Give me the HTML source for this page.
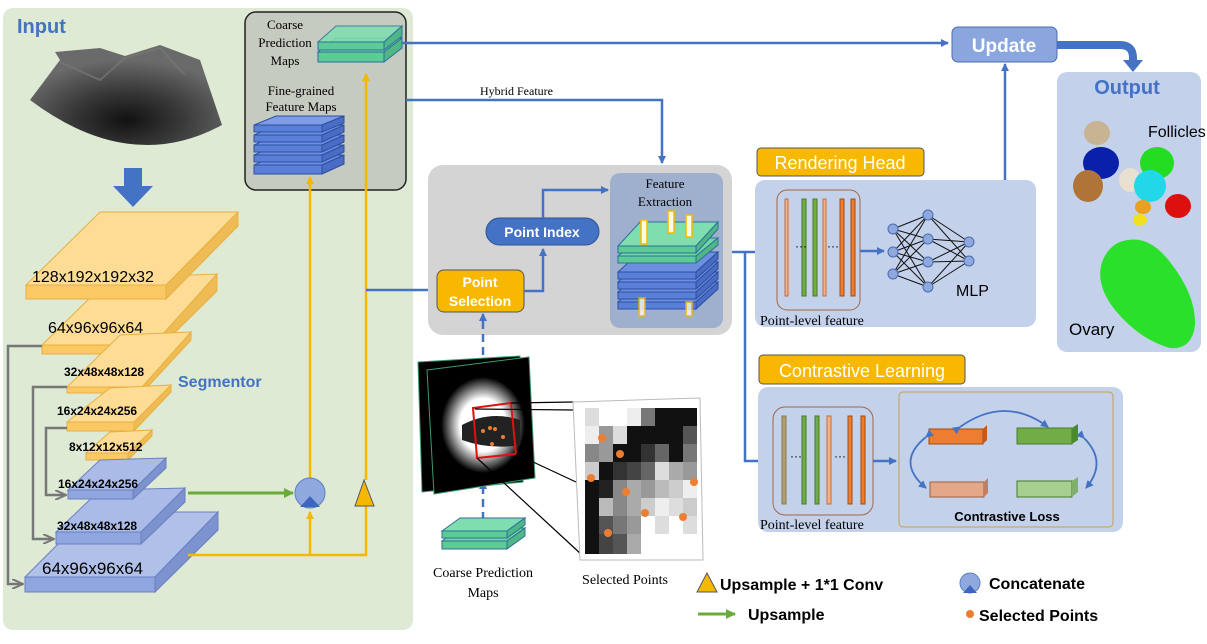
<!DOCTYPE html>
<html><head><meta charset="utf-8"><style>
html,body{margin:0;padding:0;background:#fff}
svg{display:block}
text{font-family:"Liberation Sans",sans-serif}
.s{font-family:"Liberation Serif",serif}
</style></head><body>
<svg width="1207" height="644" viewBox="0 0 1207 644" xmlns="http://www.w3.org/2000/svg">
<defs>
<marker id="ab" markerWidth="8" markerHeight="8" refX="7" refY="4" orient="auto" markerUnits="userSpaceOnUse"><path d="M0,0 L8,4 L0,8 z" fill="#4472c4"/></marker>
<marker id="ay" markerWidth="8" markerHeight="8" refX="7" refY="4" orient="auto" markerUnits="userSpaceOnUse"><path d="M0,0 L8,4 L0,8 z" fill="#f5b800"/></marker>
<marker id="ag" markerWidth="10" markerHeight="10" refX="9" refY="5" orient="auto" markerUnits="userSpaceOnUse"><path d="M0,0 L10,5 L0,10 z" fill="#6aab3c"/></marker>
<marker id="agr" markerWidth="12" markerHeight="10" refX="11" refY="5" orient="auto" markerUnits="userSpaceOnUse"><path d="M0,0 L11,5 L0,10" fill="none" stroke="#777" stroke-width="2"/></marker>
<radialGradient id="blur" cx="0.5" cy="0.5" r="0.5"><stop offset="0.55" stop-color="#fff"/><stop offset="1" stop-color="#000"/></radialGradient>
<radialGradient id="us" cx="0.5" cy="0.75" r="0.6"><stop offset="0" stop-color="#111"/><stop offset="0.5" stop-color="#3a3a3a"/><stop offset="1" stop-color="#6a6a6a"/></radialGradient>
</defs>

<rect x="3" y="8" width="410" height="622" rx="10" fill="#dfead5"/>
<text x="17" y="33" font-size="20" font-weight="bold" fill="#4472c4">Input</text>
<path d="M30,100 L60,60 L55,52 L100,48 L125,56 L160,45 L200,60 L222,125 Q130,175 30,100 Z" fill="url(#us)"/>
<path d="M60,62 L100,80 L125,58 L160,48 L185,75" fill="none" stroke="#777" stroke-width="2" opacity="0.7"/>
<rect x="124" y="168" width="18" height="20" fill="#4472c4"/>
<path d="M113,186 L153,186 L133,207 Z" fill="#4472c4"/>

<rect x="245" y="12" width="161" height="178" rx="11" fill="#c5cbc0" stroke="#222" stroke-width="1.5"/>
<text class="s" x="285" y="29" font-size="13" text-anchor="middle">Coarse</text>
<text class="s" x="285" y="47" font-size="13" text-anchor="middle">Prediction</text>
<text class="s" x="285" y="65" font-size="13" text-anchor="middle">Maps</text>
<g stroke="#2e6f9a" stroke-width="1">
<path d="M318,52 L336,38 L402,38 L384,52 Z" fill="#6fd6a4"/><rect x="318" y="52" width="66" height="10" fill="#5ccb95"/><path d="M384,62 L402,48 L402,38 L384,52Z" fill="#4fb686"/>
<path d="M318,42 L336,26 L402,26 L384,42 Z" fill="#7fdeb0" opacity="0.85"/><rect x="318" y="42" width="66" height="8" fill="#5ccb95"/><path d="M384,50 L402,36 L402,26 L384,42Z" fill="#4fb686"/>
</g>
<text class="s" x="301" y="95" font-size="13" text-anchor="middle">Fine-grained</text>
<text class="s" x="301" y="111" font-size="13" text-anchor="middle">Feature Maps</text>
<g stroke="#2c4fa0" stroke-width="1">
<path d="M254,165 L276,155 L344,155 L322,165Z" fill="#6d8fe0"/><rect x="254" y="165" width="68" height="9" fill="#5a7fd8"/><path d="M322,174 L344,164 L344,155 L322,165Z" fill="#4a6cc4"/>
<path d="M254,155 L276,145 L344,145 L322,155Z" fill="#6d8fe0"/><rect x="254" y="155" width="68" height="7" fill="#5a7fd8"/><path d="M322,162 L344,152 L344,145 L322,155Z" fill="#4a6cc4"/>
<path d="M254,145 L276,135 L344,135 L322,145Z" fill="#6d8fe0"/><rect x="254" y="145" width="68" height="7" fill="#5a7fd8"/><path d="M322,152 L344,142 L344,135 L322,145Z" fill="#4a6cc4"/>
<path d="M254,135 L276,125 L344,125 L322,135Z" fill="#6d8fe0"/><rect x="254" y="135" width="68" height="7" fill="#5a7fd8"/><path d="M322,142 L344,132 L344,125 L322,135Z" fill="#4a6cc4"/>
<path d="M254,125 L276,116 L344,116 L322,125Z" fill="#7f9ce6"/><rect x="254" y="125" width="68" height="7" fill="#5a7fd8"/><path d="M322,132 L344,123 L344,116 L322,125Z" fill="#4a6cc4"/>
</g>

<g stroke="#e8b040" stroke-width="1">
<path d="M153,354 L217,291 L217,274 L153,345 Z" fill="#eebb55"/><path d="M42,345 L110,278 L217,274 L153,345 Z" fill="#fddc95"/><rect x="42" y="345" width="111" height="9" fill="#fbc964"/>
<path d="M166,299 L238,226 L238,212 L166,285 Z" fill="#eebb55"/><path d="M26,285 L100,212 L238,212 L166,285 Z" fill="#fddc95"/><rect x="26" y="285" width="140" height="14" fill="#fbc964"/>
<path d="M142,393 L191,340 L191,332 L142,387 Z" fill="#eebb55"/><path d="M67,387 L120,335 L191,332 L142,387 Z" fill="#fddc95"/><rect x="67" y="387" width="75" height="6" fill="#fbc964"/>
<path d="M134,431 L171,392 L171,385 L134,422 Z" fill="#eebb55"/><path d="M67,422 L110,388 L171,385 L134,422 Z" fill="#fddc95"/><rect x="67" y="422" width="67" height="9" fill="#fbc964"/>
<path d="M128,460 L152,436 L152,430 L128,453 Z" fill="#eebb55"/><path d="M86,453 L110,432 L152,430 L128,453 Z" fill="#fddc95"/><rect x="86" y="453" width="42" height="7" fill="#fbc964"/>
</g>
<text x="32" y="282" font-size="16">128x192x192x32</text>
<text x="48" y="333" font-size="16">64x96x96x64</text>
<text x="64" y="376" font-size="12" font-weight="bold">32x48x48x128</text>
<text x="57" y="415" font-size="12" font-weight="bold">16x24x24x256</text>
<text x="69" y="451" font-size="12" font-weight="bold">8x12x12x512</text>
<g stroke="#6a80c0" stroke-width="1">
<path d="M25,577 L90,512 L218,512 L155,577 Z" fill="#b0c0e8"/><rect x="25" y="577" width="130" height="15" fill="#8fa6df"/><path d="M155,592 L218,530 L218,512 L155,577Z" fill="#7d93cf"/>
<path d="M56,532 L100,490 L185,488 L141,532 Z" fill="#a9bbe6"/><rect x="56" y="532" width="85" height="12" fill="#8fa6df"/><path d="M141,544 L185,502 L185,488 L141,532Z" fill="#7d93cf"/>
<path d="M68,490 L100,460 L166,458 L133,490 Z" fill="#a9bbe6"/><rect x="68" y="490" width="65" height="9" fill="#8fa6df"/><path d="M133,499 L166,468 L166,458 L133,490Z" fill="#7d93cf"/>
</g>
<text x="58" y="488" font-size="12" font-weight="bold">16x24x24x256</text>
<text x="57" y="530" font-size="12" font-weight="bold">32x48x48x128</text>
<text x="42" y="574" font-size="17">64x96x96x64</text>
<text x="178" y="387" font-size="16" font-weight="bold" fill="#4472c4">Segmentor</text>
<g fill="none" stroke="#777" stroke-width="2.5">
<path d="M42,346 L8,346 L8,584 L23,584" marker-end="url(#agr)"/>
<path d="M67,387 L33,387 L33,539 L54,539" marker-end="url(#agr)"/>
<path d="M67,428 L46,428 L46,495 L66,495" marker-end="url(#agr)"/>
</g>
<line x1="188" y1="493" x2="293" y2="493" stroke="#6aab3c" stroke-width="3" marker-end="url(#ag)"/>
<g fill="none" stroke="#f5b800" stroke-width="2.5">
<path d="M188,555 L366,555 L366,505"/>
<path d="M310,555 L310,512" marker-end="url(#ay)"/>
<path d="M366,480 L366,74" marker-end="url(#ay)"/>
<path d="M310,478 L310,177" marker-end="url(#ay)"/>
</g>
<circle cx="310" cy="493" r="15" fill="#8fa9de" stroke="#5d7fc4"/>
<path d="M300,507 L310,496 L320,507 Z" fill="#3d66c0"/>
<path d="M364,480 L374,506 L355,506 Z" fill="#f5b800" stroke="#556" stroke-width="1"/>

<g fill="none" stroke="#4472c4" stroke-width="2.5">
<path d="M402,43 L948,43" marker-end="url(#ab)"/>
<path d="M406,100 L662,100 L662,163" marker-end="url(#ab)"/>
<path d="M366,290 L435,290" marker-end="url(#ab)"/>
<path d="M980,250 L1005,250 L1005,64" marker-end="url(#ab)"/>
</g>
<text class="s" x="480" y="95" font-size="12">Hybrid Feature</text>
<rect x="952" y="27" width="105" height="35" rx="6" fill="#8aa6dc" stroke="#4a6cb0"/>
<text x="1004" y="52" font-size="19" font-weight="bold" fill="#fff" text-anchor="middle">Update</text>
<path d="M1057,45 L1120,45 Q1133,45 1133,58 L1133,62" fill="none" stroke="#4472c4" stroke-width="8"/>
<path d="M1123,60 L1143,60 L1133,72 Z" fill="#4472c4"/>
<rect x="1057" y="72" width="144" height="280" rx="10" fill="#c3d1ea"/>
<text x="1127" y="94" font-size="20" font-weight="bold" fill="#4472c4" text-anchor="middle">Output</text>
<text x="1148" y="137" font-size="16">Follicles</text>
<ellipse cx="1097" cy="133" rx="13" ry="12" fill="#c8b392"/>
<ellipse cx="1101" cy="163" rx="18" ry="16" fill="#0a1faa"/>
<ellipse cx="1088" cy="186" rx="15" ry="16" fill="#b07438"/>
<ellipse cx="1157" cy="163" rx="17" ry="16" fill="#22dd22"/>
<ellipse cx="1130" cy="180" rx="11" ry="12" fill="#e8e0d0"/>
<ellipse cx="1150" cy="186" rx="16" ry="16" fill="#22d8e8"/>
<ellipse cx="1143" cy="207" rx="8" ry="7" fill="#e8a020"/>
<ellipse cx="1140" cy="220" rx="7" ry="6" fill="#f0e020"/>
<ellipse cx="1178" cy="206" rx="13" ry="12" fill="#dd1010"/>
<path d="M1128,240 Q1150,236 1170,262 Q1196,295 1195,325 Q1192,350 1170,348 Q1140,340 1115,310 Q1095,285 1102,262 Q1110,242 1128,240 Z" fill="#2be02b"/>
<text x="1069" y="335" font-size="17">Ovary</text>

<rect x="428" y="165" width="304" height="170" rx="15" fill="#d4d4d4"/>
<rect x="610" y="173" width="113" height="155" rx="10" fill="#9fb0cf"/>
<text class="s" x="665" y="188" font-size="13" text-anchor="middle">Feature</text>
<text class="s" x="665" y="206" font-size="13" text-anchor="middle">Extraction</text>
<g stroke="#2c4fa0" stroke-width="1">
<path d="M618,302 L640,282 L718,282 L696,302Z" fill="#6d8fe0"/><rect x="618" y="302" width="78" height="7" fill="#5a7fd8"/><path d="M696,309 L718,289 L718,282 L696,302Z" fill="#4a6cc4"/>
<path d="M618,292 L640,272 L718,272 L696,292Z" fill="#6d8fe0"/><rect x="618" y="292" width="78" height="7" fill="#5a7fd8"/><path d="M696,299 L718,279 L718,272 L696,292Z" fill="#4a6cc4"/>
<path d="M618,282 L640,262 L718,262 L696,282Z" fill="#6d8fe0"/><rect x="618" y="282" width="78" height="7" fill="#5a7fd8"/><path d="M696,289 L718,269 L718,262 L696,282Z" fill="#4a6cc4"/>
<path d="M618,272 L640,252 L718,252 L696,272Z" fill="#6d8fe0"/><rect x="618" y="272" width="78" height="7" fill="#5a7fd8"/><path d="M696,279 L718,259 L718,252 L696,272Z" fill="#4a6cc4"/>
</g>
<g stroke="#2e6f9a" stroke-width="1">
<path d="M618,256 L640,238 L718,238 L696,256Z" fill="#6fd6a4"/><rect x="618" y="256" width="78" height="7" fill="#5ccb95"/><path d="M696,263 L718,245 L718,238 L696,256Z" fill="#4fb686"/>
<path d="M618,246 L640,222 L718,222 L696,246Z" fill="#7fdeb0"/><rect x="618" y="246" width="78" height="7" fill="#5ccb95"/><path d="M696,253 L718,229 L718,222 L696,246Z" fill="#4fb686"/>
</g>
<g fill="#fffbe0" stroke="#f5b800" stroke-width="1.5">
<rect x="641" y="220" width="6" height="24"/><rect x="668" y="211" width="6" height="22"/><rect x="686" y="215" width="6" height="22"/>
<rect x="639" y="298" width="6" height="18" opacity="0.8"/><rect x="686" y="302" width="6" height="14" opacity="0.8"/>
</g>
<rect x="437" y="270" width="87" height="42" rx="7" fill="#f8b800" stroke="#555"/>
<text x="480" y="287" font-size="14" font-weight="bold" fill="#fff" text-anchor="middle">Point</text>
<text x="480" y="306" font-size="14" font-weight="bold" fill="#fff" text-anchor="middle">Selection</text>
<rect x="486" y="218" width="113" height="27" rx="13.5" fill="#4472c4" stroke="#2f528f"/>
<text x="542" y="237" font-size="14" font-weight="bold" fill="#fff" text-anchor="middle">Point Index</text>
<g fill="none" stroke="#4472c4" stroke-width="2.5">
<path d="M524,291 L543,291 L543,249" marker-end="url(#ab)"/>
<path d="M543,218 L543,190 L608,190" marker-end="url(#ab)"/>
<path d="M732,252 L776,252" marker-end="url(#ab)"/>
<path d="M745,252 L745,461 L771,461" marker-end="url(#ab)"/>
<path d="M483,355 L483,314" stroke-dasharray="8,5" marker-end="url(#ab)"/>
<path d="M483,520 L483,482" stroke-dasharray="8,5" marker-end="url(#ab)"/>
</g>

<rect x="757" y="148" width="167" height="28" rx="4" fill="#f8b800" stroke="#555"/>
<text x="840" y="169" font-size="18" fill="#fff" text-anchor="middle">Rendering Head</text>
<rect x="755" y="180" width="281" height="147" rx="10" fill="#c3d1ea"/>
<rect x="777" y="190" width="83" height="120" rx="10" fill="none" stroke="#a0674a"/>
<g stroke-width="1">
<rect x="785" y="199" width="3" height="97" fill="#f4b183" stroke="#c07040"/>
<rect x="802" y="199" width="4" height="97" fill="#70ad47" stroke="#4a7a2a"/>
<rect x="813" y="199" width="4" height="97" fill="#70ad47" stroke="#4a7a2a"/>
<rect x="823" y="199" width="3" height="97" fill="#f4b183" stroke="#c07040"/>
<rect x="840" y="199" width="4" height="97" fill="#ed7d31" stroke="#a04a10"/>
<rect x="851" y="199" width="4" height="97" fill="#ed7d31" stroke="#a04a10"/>
</g>
<text x="795" y="250" font-size="12">···</text><text x="827" y="250" font-size="12">···</text>
<line x1="860" y1="251" x2="884" y2="251" stroke="#4472c4" stroke-width="2.5" marker-end="url(#ab)"/>
<g stroke="#111" stroke-width="1">
<path d="M893,229 L928,215 M893,229 L928,239 M893,229 L928,262 M893,229 L928,287 M893,252 L928,215 M893,252 L928,239 M893,252 L928,262 M893,252 L928,287 M893,274 L928,215 M893,274 L928,239 M893,274 L928,262 M893,274 L928,287 M928,215 L969,242 M928,215 L969,261 M928,239 L969,242 M928,239 L969,261 M928,262 L969,242 M928,262 L969,261 M928,287 L969,242 M928,287 L969,261"/>
</g>
<g fill="#8fa9de" stroke="#4a6cb0">
<circle cx="893" cy="229" r="5"/><circle cx="893" cy="252" r="5"/><circle cx="893" cy="274" r="5"/>
<circle cx="928" cy="215" r="5"/><circle cx="928" cy="239" r="5"/><circle cx="928" cy="262" r="5"/><circle cx="928" cy="287" r="5"/>
<circle cx="969" cy="242" r="5"/><circle cx="969" cy="261" r="5"/>
</g>
<text x="956" y="296" font-size="16">MLP</text>
<text class="s" x="760" y="325" font-size="14">Point-level feature</text>

<rect x="759" y="355" width="206" height="29" rx="4" fill="#f8b800" stroke="#555"/>
<text x="862" y="377" font-size="18" fill="#fff" text-anchor="middle">Contrastive Learning</text>
<rect x="758" y="387" width="365" height="145" rx="10" fill="#c3d1ea"/>
<rect x="773" y="407" width="100" height="108" rx="12" fill="none" stroke="#a0674a"/>
<g stroke-width="1">
<rect x="782" y="416" width="4" height="88" fill="#b0a070" stroke="#8a7a50"/>
<rect x="802" y="416" width="4" height="88" fill="#70ad47" stroke="#4a7a2a"/>
<rect x="815" y="416" width="4" height="88" fill="#70ad47" stroke="#4a7a2a"/>
<rect x="827" y="416" width="4" height="88" fill="#f4b183" stroke="#c07040"/>
<rect x="848" y="416" width="4" height="88" fill="#ed7d31" stroke="#a04a10"/>
<rect x="861" y="416" width="4" height="88" fill="#ed7d31" stroke="#a04a10"/>
</g>
<text x="790" y="460" font-size="12">···</text><text x="834" y="460" font-size="12">···</text>
<line x1="873" y1="461" x2="896" y2="461" stroke="#4472c4" stroke-width="2.5" marker-end="url(#ab)"/>
<rect x="899" y="392" width="214" height="135" rx="4" fill="none" stroke="#c8a050"/>
<g stroke-width="1">
<rect x="929" y="429" width="54" height="15" fill="#ed7d31" stroke="#a04a10"/><path d="M983,429 L987,425 L987,440 L983,444Z" fill="#c05a20"/>
<rect x="1017" y="428" width="55" height="16" fill="#70ad47" stroke="#4a7a2a"/><path d="M1072,428 L1078,424 L1078,440 L1072,444Z" fill="#4a8a2a"/>
<rect x="930" y="482" width="54" height="15" fill="#e4a888" stroke="#a06040"/><path d="M984,482 L988,478 L988,493 L984,497Z" fill="#c08060"/>
<rect x="1017" y="481" width="55" height="16" fill="#a6cf90" stroke="#4a7a2a"/><path d="M1072,481 L1078,477 L1078,492 L1072,497Z" fill="#80b070"/>
</g>
<g fill="none" stroke="#4472c4" stroke-width="1.8">
<path d="M960,427 Q1005,395 1048,427" marker-start="url(#ab)" marker-end="url(#ab)"/>
<path d="M926,437 Q895,462 926,488" marker-start="url(#ab)" marker-end="url(#ab)"/>
<path d="M1084,438 Q1108,462 1086,488" marker-start="url(#ab)" marker-end="url(#ab)"/>
</g>
<text x="1007" y="521" font-size="13" font-weight="bold" text-anchor="middle">Contrastive Loss</text>
<text class="s" x="760" y="529" font-size="14">Point-level feature</text>

<path d="M418,362 L520,356 L523,482 L422,492 Z" fill="#000" stroke="#3a9a70"/>
<path d="M427,370 L529,357 L535,478 L434,494 Z" fill="#000" stroke="#3a9a70"/>
<ellipse cx="483" cy="425" rx="42" ry="48" fill="url(#blur)"/>
<path d="M462,425 Q490,410 520,420 L520,445 Q490,450 462,440 Z" fill="#222"/>
<path d="M473,408 L511,403 L516,454 L477,458 Z" fill="none" stroke="#e01010" stroke-width="2"/>
<g fill="#ed7d31"><circle cx="483" cy="431" r="2"/><circle cx="490" cy="428" r="2"/><circle cx="495" cy="429" r="2"/><circle cx="492" cy="444" r="2"/><circle cx="503" cy="437" r="2"/></g>
<g stroke="#000" stroke-width="1.2">
<line x1="475" y1="409" x2="573" y2="410"/><line x1="511" y1="403" x2="573" y2="402"/><line x1="477" y1="458" x2="582" y2="555"/><line x1="516" y1="454" x2="576" y2="482"/>
</g>
<path d="M573,402 L700,398 L703,560 L580,560 Z" fill="#fff" stroke="#bbb"/>
<rect x="585" y="408" width="112" height="146" fill="#777"/>
<g>
<rect x="585" y="408" width="14" height="18" fill="#ddd"/><rect x="599" y="408" width="14" height="18" fill="#fff"/><rect x="613" y="408" width="14" height="18" fill="#fff"/><rect x="627" y="408" width="14" height="18" fill="#eee"/><rect x="641" y="408" width="14" height="18" fill="#777"/><rect x="655" y="408" width="14" height="18" fill="#111"/><rect x="669" y="408" width="14" height="18" fill="#111"/><rect x="683" y="408" width="14" height="18" fill="#111"/>
<rect x="585" y="426" width="14" height="18" fill="#eee"/><rect x="599" y="426" width="14" height="18" fill="#999"/><rect x="613" y="426" width="14" height="18" fill="#ddd"/><rect x="627" y="426" width="14" height="18" fill="#111"/><rect x="641" y="426" width="14" height="18" fill="#111"/><rect x="655" y="426" width="14" height="18" fill="#111"/><rect x="669" y="426" width="14" height="18" fill="#111"/><rect x="683" y="426" width="14" height="18" fill="#555"/>
<rect x="585" y="444" width="14" height="18" fill="#888"/><rect x="599" y="444" width="14" height="18" fill="#999"/><rect x="613" y="444" width="14" height="18" fill="#111"/><rect x="627" y="444" width="14" height="18" fill="#111"/><rect x="641" y="444" width="14" height="18" fill="#333"/><rect x="655" y="444" width="14" height="18" fill="#666"/><rect x="669" y="444" width="14" height="18" fill="#111"/><rect x="683" y="444" width="14" height="18" fill="#777"/>
<rect x="585" y="462" width="14" height="18" fill="#ccc"/><rect x="599" y="462" width="14" height="18" fill="#111"/><rect x="613" y="462" width="14" height="18" fill="#333"/><rect x="627" y="462" width="14" height="18" fill="#444"/><rect x="641" y="462" width="14" height="18" fill="#666"/><rect x="655" y="462" width="14" height="18" fill="#ddd"/><rect x="669" y="462" width="14" height="18" fill="#aaa"/><rect x="683" y="462" width="14" height="18" fill="#999"/>
<rect x="585" y="480" width="14" height="18" fill="#111"/><rect x="599" y="480" width="14" height="18" fill="#222"/><rect x="613" y="480" width="14" height="18" fill="#888"/><rect x="627" y="480" width="14" height="18" fill="#aaa"/><rect x="641" y="480" width="14" height="18" fill="#999"/><rect x="655" y="480" width="14" height="18" fill="#bbb"/><rect x="669" y="480" width="14" height="18" fill="#ccc"/><rect x="683" y="480" width="14" height="18" fill="#eee"/>
<rect x="585" y="498" width="14" height="18" fill="#111"/><rect x="599" y="498" width="14" height="18" fill="#bbb"/><rect x="613" y="498" width="14" height="18" fill="#888"/><rect x="627" y="498" width="14" height="18" fill="#aaa"/><rect x="641" y="498" width="14" height="18" fill="#ccc"/><rect x="655" y="498" width="14" height="18" fill="#eee"/><rect x="669" y="498" width="14" height="18" fill="#ddd"/><rect x="683" y="498" width="14" height="18" fill="#ccc"/>
<rect x="585" y="516" width="14" height="18" fill="#111"/><rect x="599" y="516" width="14" height="18" fill="#555"/><rect x="613" y="516" width="14" height="18" fill="#777"/><rect x="627" y="516" width="14" height="18" fill="#999"/><rect x="641" y="516" width="14" height="18" fill="#fff"/><rect x="655" y="516" width="14" height="18" fill="#ddd"/><rect x="669" y="516" width="14" height="18" fill="#fff"/><rect x="683" y="516" width="14" height="18" fill="#ddd"/>
<rect x="585" y="534" width="14" height="20" fill="#111"/><rect x="599" y="534" width="14" height="20" fill="#444"/><rect x="613" y="534" width="14" height="20" fill="#555"/><rect x="627" y="534" width="14" height="20" fill="#aaa"/><rect x="641" y="534" width="14" height="20" fill="#fff"/><rect x="655" y="534" width="14" height="20" fill="#fff"/><rect x="669" y="534" width="14" height="20" fill="#fff"/><rect x="683" y="534" width="14" height="20" fill="#fff"/>
</g>
<g fill="#ed7d31"><circle cx="602" cy="438" r="4"/><circle cx="620" cy="454" r="4"/><circle cx="591" cy="478" r="4"/><circle cx="626" cy="492" r="4"/><circle cx="694" cy="482" r="4"/><circle cx="645" cy="513" r="4"/><circle cx="683" cy="517" r="4"/><circle cx="608" cy="533" r="4"/></g>
<g stroke="#2e6f9a" stroke-width="1">
<path d="M442,541 L460,528 L525,528 L507,541Z" fill="#6fd6a4"/><rect x="442" y="541" width="65" height="8" fill="#5ccb95"/><path d="M507,549 L525,536 L525,528 L507,541Z" fill="#4fb686"/>
<path d="M442,531 L460,518 L525,518 L507,531Z" fill="#7fdeb0"/><rect x="442" y="531" width="65" height="7" fill="#5ccb95"/><path d="M507,538 L525,525 L525,518 L507,531Z" fill="#4fb686"/>
</g>
<text class="s" x="483" y="577" font-size="14" text-anchor="middle">Coarse Prediction</text>
<text class="s" x="483" y="597" font-size="14" text-anchor="middle">Maps</text>
<text class="s" x="625" y="584" font-size="14" text-anchor="middle">Selected Points</text>

<path d="M707,573 L717,592 L697,592 Z" fill="#f5b800" stroke="#556"/>
<text x="720" y="590" font-size="16" font-weight="bold">Upsample + 1*1 Conv</text>
<line x1="698" y1="614" x2="735" y2="614" stroke="#6aab3c" stroke-width="3" marker-end="url(#ag)"/>
<text x="748" y="620" font-size="16" font-weight="bold">Upsample</text>
<circle cx="970" cy="583" r="10" fill="#8fa9de" stroke="#5d7fc4"/>
<path d="M963,593 L970,585 L977,593Z" fill="#3d66c0"/>
<text x="989" y="589" font-size="16" font-weight="bold">Concatenate</text>
<circle cx="970" cy="614" r="4" fill="#ed7d31"/>
<text x="979" y="621" font-size="16" font-weight="bold">Selected Points</text>
</svg>
</body></html>
